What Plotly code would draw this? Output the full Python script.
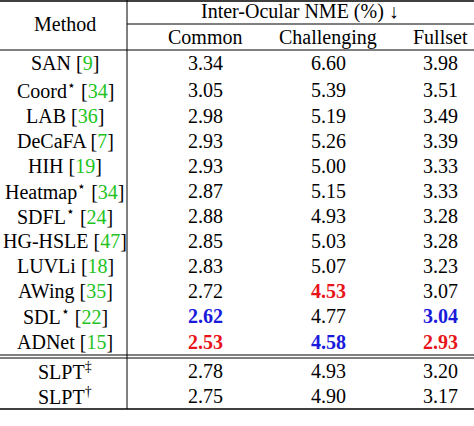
import plotly.graph_objects as go

methods = ["SAN", "Coord<sup>⋆</sup>", "LAB", "DeCaFA", "HIH", "Heatmap<sup>⋆</sup>", "SDFL<sup>⋆</sup>",
           "HG-HSLE", "LUVLi", "AWing", "SDL<sup>⋆</sup>", "ADNet", "SLPT<sup>‡</sup>", "SLPT<sup>†</sup>"]
refs = ["9", "34", "36", "7", "19", "34", "24", "47", "18", "35", "22", "15", "", ""]
common = [3.34, 3.05, 2.98, 2.93, 2.93, 2.87, 2.88, 2.85, 2.83, 2.72, 2.62, 2.53, 2.78, 2.75]
challenging = [6.60, 5.39, 5.19, 5.26, 5.00, 5.15, 4.93, 5.03, 5.07, 4.53, 4.77, 4.58, 4.93, 4.90]
fullset = [3.98, 3.51, 3.49, 3.39, 3.33, 3.33, 3.28, 3.28, 3.23, 3.07, 3.04, 2.93, 3.20, 3.17]
best = {"common": 11, "challenging": 9, "fullset": 11}
second = {"common": 10, "challenging": 11, "fullset": 10}

RED, BLUE, GREEN = "#e8141a", "#1a1adb", "#22c322"
row_y = [63, 90, 116, 141, 166, 191, 216, 241, 266, 291, 316, 342, 371, 396]
col_x = {"common": 205, "challenging": 328, "fullset": 440}
F = "Liberation Serif, Times New Roman, serif"
fs = 20

fig = go.Figure()
fig.add_trace(go.Scatter(x=[0, 474], y=[0, 426], mode="markers", marker=dict(opacity=0), hoverinfo="skip"))
ann = []
def t(x, y, s, color="black", size=fs, **kw):
    ann.append(dict(x=x, y=y, xref="x", yref="y", text=s, showarrow=False,
                    font=dict(family=F, size=size, color=color), **kw))

t(65, 24, "Method")
t(300, 11, "Inter-Ocular NME (%) ↓")
t(col_x["common"], 37, "Common")
t(col_x["challenging"], 37, "Challenging")
t(col_x["fullset"], 37, "Fullset")
for i, m in enumerate(methods):
    s = m + (f" [<span style='color:{GREEN}'>{refs[i]}</span>]" if refs[i] else "")
    t(65, row_y[i], s)
    for key, vals in (("common", common), ("challenging", challenging), ("fullset", fullset)):
        v = f"{vals[i]:.2f}"
        c = "black"
        if best[key] == i:
            v, c = f"<b>{v}</b>", RED
        elif second[key] == i:
            v, c = f"<b>{v}</b>", BLUE
        t(col_x[key], row_y[i], v, c)
t(2, 431, "<b>Table 2:</b>    Performance comparison for <b>SLPT</b> and other", size=18, xanchor="left")

shapes = []
def ln(x0, y0, x1, y1, w=1):
    shapes.append(dict(type="line", x0=x0, y0=y0, x1=x1, y1=y1, xref="x", yref="y",
                       line=dict(color="black", width=w)))
ln(0, 1, 474, 1, 1.5)
ln(127, 24, 474, 24)
ln(0, 50, 474, 50)
ln(0, 355, 474, 355)
ln(0, 358, 474, 358)
ln(0, 409, 474, 409, 1.5)
ln(127, 0, 127, 409)

fig.update_layout(width=474, height=426, margin=dict(l=0, r=0, t=0, b=0),
                  plot_bgcolor="white", paper_bgcolor="white", showlegend=False,
                  annotations=ann, shapes=shapes,
                  xaxis=dict(range=[0, 474], visible=False, fixedrange=True),
                  yaxis=dict(range=[426, 0], visible=False, fixedrange=True))
fig.write_html("out.html", config={"displayModeBar": False},
               post_script="document.body.style.margin='0';document.body.style.overflow='hidden';")
